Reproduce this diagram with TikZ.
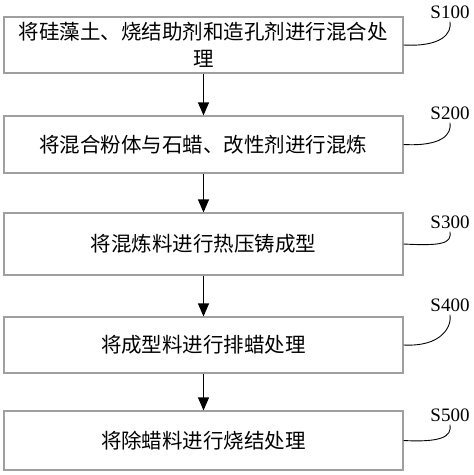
\documentclass[tikz,border=0pt]{standalone}
\usepackage{fontspec}
\setmainfont{Liberation Serif}
\newfontfamily\cjk{Noto Sans CJK SC}
\usetikzlibrary{arrows.meta}

\begin{document}
\begin{tikzpicture}[x=1pt, y=-1pt]
\tikzset{etape/.style={draw=gray!75, line width=1.2pt, minimum width=399pt, inner sep=2pt, align=center, font=\cjk\fontsize{20.5}{27}\selectfont},
         repere/.style={font=\fontsize{19}{22}\selectfont, inner sep=3pt},
         fleche/.style={-{Triangle[length=13pt, width=11pt]}, line width=1.2pt},
         lien/.style={line width=0.9pt}}
\useasboundingbox (0, 0) rectangle (474, 475);
\node[etape, minimum height=56pt] (E1) at (203.5, 45) {将硅藻土、烧结助剂和造孔剂进行混合处\\理};
\node[etape, minimum height=57pt] (E2) at (203.5, 144.5) {将混合粉体与石蜡、改性剂进行混炼};
\node[etape, minimum height=62pt] (E3) at (203.5, 244) {将混炼料进行热压铸成型};
\node[etape, minimum height=56pt] (E4) at (203.5, 345) {将成型料进行排蜡处理};
\node[etape, minimum height=59pt] (E5) at (203.5, 440.5) {将除蜡料进行烧结处理};
\node[repere] (S1) at (450, 12) {S100};
\node[repere] (S2) at (450, 113) {S200};
\node[repere] (S3) at (450, 222) {S300};
\node[repere] (S4) at (450, 305) {S400};
\node[repere] (S5) at (450, 415) {S500};
\draw[fleche] (E1) -- (E2);
\draw[fleche] (E2) -- (E3);
\draw[fleche] (E3) -- (E4);
\draw[fleche] (E4) -- (E5);
\draw[lien] (E1.east) .. controls +(38, 2) and +(2, 12) .. (S1.south);
\draw[lien] (E2.east) .. controls +(38, 2) and +(2, 12) .. (S2.south);
\draw[lien] (E3.east) .. controls +(38, 2) and +(2, 12) .. (S3.south);
\draw[lien] (E4.east) .. controls +(38, 2) and +(2, 12) .. (S4.south);
\draw[lien] (E5.east) .. controls +(38, 2) and +(2, 12) .. (S5.south);
\end{tikzpicture}
\end{document}
